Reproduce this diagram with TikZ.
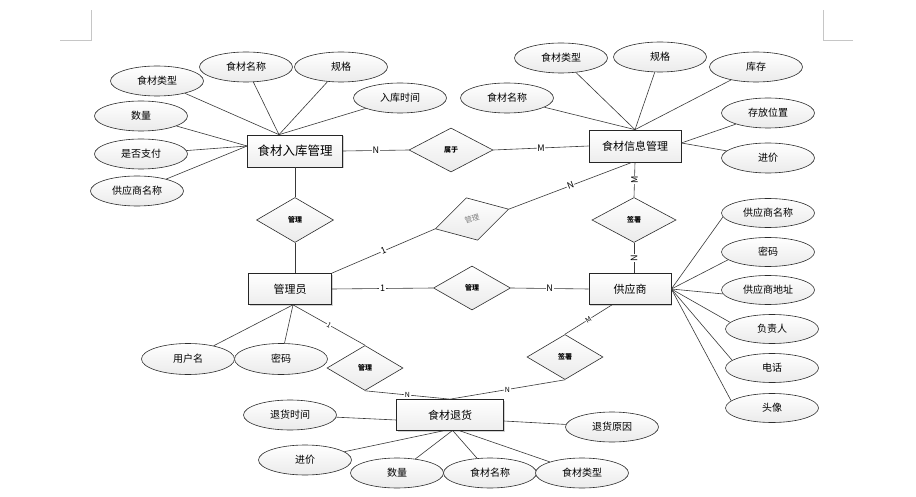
\documentclass[tikz,border=0pt]{standalone}
\usepackage{fontspec}
\newfontfamily\cjk{Noto Sans CJK SC}
\usepackage{tikz}
\usetikzlibrary{positioning, shapes.geometric, shadows, calc}

\begin{document}
\begin{tikzpicture}[
    x=1pt, y=-1pt,
    % Style for the entities
    entity/.style={
        rectangle,
        draw=gray!30!black,
        line width=0.7pt,
        top color=white,
        bottom color=gray!14,
        drop shadow={shadow xshift=1.2pt, shadow yshift=-1.2pt, opacity=0.35},
        minimum width=83pt,
        minimum height=31pt,
        inner sep=1pt,
        font=\cjk\fontsize{11}{13}\selectfont
    },
    % Style for the attributes
    attr/.style={
        ellipse,
        draw=gray!35!black,
        line width=0.6pt,
        top color=white,
        bottom color=gray!16,
        minimum width=93pt,
        minimum height=30pt,
        inner sep=0pt,
        font=\cjk\fontsize{10}{12}\selectfont
    },
    % Style for the relations
    rel/.style={
        diamond,
        draw=gray!35!black,
        line width=0.6pt,
        top color=white,
        bottom color=gray!16,
        minimum width=77pt,
        minimum height=45pt,
        inner sep=0pt,
        font=\cjk\bfseries\fontsize{7}{8}\selectfont
    },
    link/.style={draw=gray!45!black, line width=0.6pt},
    card/.style={fill=white, inner sep=0.6pt, font=\cjk\fontsize{9}{9}\selectfont},
    smallcard/.style={card, font=\cjk\fontsize{7}{7}\selectfont},
    cropmark/.style={draw=gray!45, line width=0.6pt}
]

    % --- Page ---
    \useasboundingbox[fill=white] (0,0) rectangle (916,497);
    \draw[cropmark] (60,40) -- (91,40) -- (91,10);
    \draw[cropmark] (853,40) -- (823,40) -- (823,10);

    % --- Entities ---
    \node[entity, minimum width=95pt, minimum height=32pt, font=\cjk\fontsize{12.5}{14}\selectfont] (ruku) at (295,151) {食材入库管理};
    \node[entity, minimum width=92pt, minimum height=32pt] (xinxi) at (635,146) {食材信息管理};
    \node[entity] (admin) at (290,289) {管理员};
    \node[entity, minimum width=82pt] (supplier) at (630,289) {供应商};
    \node[entity, minimum width=107pt] (tuihuo) at (450,415) {食材退货};

    \coordinate (ruku_top) at ([xshift=-16pt]ruku.north);
    \coordinate (ruku_left) at ([yshift=5pt]ruku.west);
    \coordinate (xinxi_right) at ([yshift=3pt]xinxi.east);
    \coordinate (admin_bottom) at ([xshift=3pt]admin.south);
    \coordinate (tuihuo_left) at ([yshift=-5pt]tuihuo.west);
    \coordinate (tuihuo_right) at ([yshift=-6pt]tuihuo.east);

    % --- Attributes ---
    \foreach \nm/\px/\py/\txt in {ruku_type/157/81/食材类型, ruku_name/246/67/食材名称,
        ruku_spec/341/67/规格, ruku_time/400/98/入库时间} {
        \node[attr] (\nm) at (\px,\py) {\txt};
        \draw[link] (\nm) -- (ruku_top);
    }
    \foreach \nm/\px/\py/\txt in {ruku_qty/141/116/数量, ruku_paid/141/154/是否支付,
        ruku_sup/137/191/供应商名称} {
        \node[attr] (\nm) at (\px,\py) {\txt};
        \draw[link] (\nm) -- (ruku_left);
    }

    \foreach \nm/\px/\py/\txt in {info_type/561/58/食材类型, info_spec/660/57/规格,
        info_stock/756/67/库存, info_name/507/98/食材名称} {
        \node[attr] (\nm) at (\px,\py) {\txt};
        \draw[link] (\nm) -- (xinxi.north);
    }
    \foreach \nm/\px/\py/\txt in {info_place/768/113/存放位置, info_price/768/158/进价} {
        \node[attr] (\nm) at (\px,\py) {\txt};
        \draw[link] (\nm) -- (xinxi_right);
    }

    % supplier attributes, joined at their left side
    \foreach \nm/\px/\py/\ang/\txt in {sup_name/768/213/185/供应商名称, sup_pwd/768/252/191/密码,
        sup_addr/768/290/185/供应商地址, sup_head/772/329/171/负责人,
        sup_tel/772/368/169/电话, sup_photo/772/408/170/头像} {
        \node[attr, minimum height=29pt] (\nm) at (\px,\py) {\txt};
        \draw[link] (\nm.\ang) -- (supplier.east);
    }

    \foreach \nm/\px/\py/\txt in {adm_user/188/359/用户名, adm_pwd/281/359/密码} {
        \node[attr, minimum height=31pt] (\nm) at (\px,\py) {\txt};
        \draw[link] (\nm) -- (admin_bottom);
    }

    \node[attr] (ret_time) at (290,415) {退货时间};
    \node[attr] (ret_reason) at (612,427) {退货原因};
    \draw[link] (ret_time) -- (tuihuo_left);
    \draw[link] (ret_reason) -- (tuihuo_right);
    \foreach \nm/\px/\py/\dx/\txt in {ret_price/305/460/-7/进价, ret_qty/397/473/2/数量,
        ret_name/490/473/3/食材名称, ret_type/582/473/10/食材类型} {
        \node[attr] (\nm) at (\px,\py) {\txt};
        \draw[link] (\nm) -- ([xshift=\dx pt]tuihuo.south);
    }

    % --- Relations ---
    \node[rel, minimum width=84pt, minimum height=44pt] (shuyu) at (451,150) {属于};
    \node[rel] (guanli_a) at (295,220) {管理};
    \node[rel, rotate=15, minimum width=76pt, minimum height=44pt, text=gray,
        font=\cjk\fontsize{7.5}{8}\selectfont] (guanli_b) at (472,219) {管理};
    \node[rel, minimum height=44pt] (guanli_c) at (472,288) {管理};
    \node[rel, minimum width=84pt] (qianshu_a) at (634,220) {签署};
    \node[rel, minimum width=76pt] (guanli_d) at (365,368) {管理};
    \node[rel, minimum width=76pt] (qianshu_b) at (565,357) {签署};

    % --- Connections ---
    \draw[link] (ruku.east) -- node[card] {N} (shuyu.west);
    \draw[link] (shuyu.east) -- node[card] {M} (xinxi.west);

    \draw[link] (ruku.south) -- (guanli_a.north);
    \draw[link] (guanli_a.south) -- (guanli_a.south |- admin.north);

    \draw[link] (admin.north east) -- node[card, sloped] {1} (guanli_b.west);
    \draw[link] (guanli_b.east) -- node[card, sloped] {N} ([xshift=-3pt]xinxi.south);

    \draw[link] (xinxi.south) -- node[card, rotate=90] {M} (qianshu_a.north);
    \draw[link] (qianshu_a.south) -- node[card, rotate=90] {N} (qianshu_a.south |- supplier.north);

    \draw[link] (admin.east) -- node[card] {1} (guanli_c.west);
    \draw[link] (guanli_c.east) -- node[card] {N} (supplier.west);

    \draw[link] (admin_bottom) -- node[smallcard, sloped] {1} (guanli_d.north);
    \draw[link] (guanli_d.south) -- node[smallcard] {N} (tuihuo.north);
    \draw[link] (tuihuo.north) -- node[smallcard] {N} (qianshu_b.south);
    \draw[link] (qianshu_b.north) -- node[smallcard, sloped] {M} ([xshift=-18pt]supplier.south);

\end{tikzpicture}
\end{document}
